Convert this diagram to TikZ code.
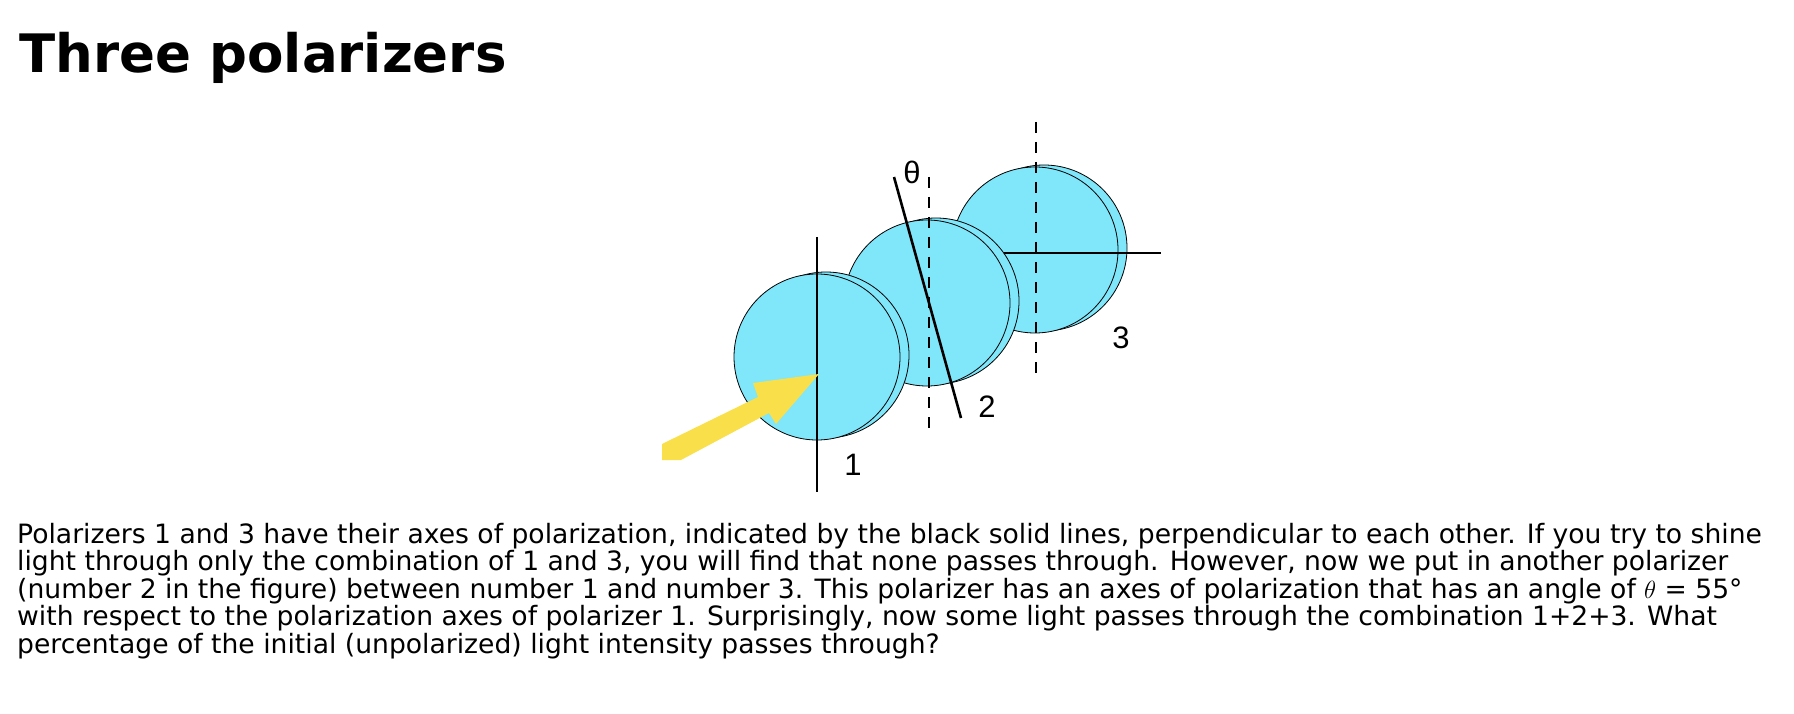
\documentclass[tikz,border=0pt]{standalone}
\usepackage{fontspec}
\setmainfont{DejaVu Sans}
\newfontfamily\labfont{Liberation Sans}
\begin{document}
\begin{tikzpicture}[x=1pt,y=-1pt,
  disk/.style={fill=diskc,draw=black,line width=0.8pt},
  axis/.style={line width=2.6pt},
  dax/.style={line width=2.4pt,dash pattern=on 11pt off 9pt},
  lab/.style={font=\labfont\fontsize{31}{31}\selectfont},
  body/.style={anchor=base west,inner sep=0pt,font=\fontsize{26.6}{30}\selectfont}]
\definecolor{diskc}{HTML}{80E6FA}
\definecolor{arrc}{HTML}{F9DF4A}
\useasboundingbox (0,0) rectangle (1794,714);
% title
\node[anchor=base west,inner sep=0pt,font=\bfseries\fontsize{53}{53}\selectfont] (title) at (19,73) {Three polarizers};
% disk 3
\draw[disk] (1044,248) circle (83);
\draw[disk] (1035,250) circle (83);
\draw[dax] (1036,122) -- (1036,375);
\draw[axis] (1002,253) -- (1161,253);
% disk 2
\draw[disk] (936,301) circle (83);
\draw[disk] (927,303) circle (83);
\draw[dax] (929,177) -- (929,428);
\draw[axis] (894,177) -- (961,418);
% disk 1
\draw[disk] (826,355) circle (83);
\draw[disk] (817,357) circle (83);
\draw[axis] (817,237) -- (817,492);
% arrow
\fill[arrc] (662,444) -- (758,397) -- (753,383) -- (819,374) -- (776,424) -- (769,413) -- (681,460) -- (662,460) -- cycle;
\node[lab] (t) at (912,172) {θ};
\node[lab] (l1) at (853,465) {1};
\node[lab] (l2) at (987,407) {2};
\node[lab] (l3) at (1121,338) {3};
% text
\node[body] (b1) at (17,543) {Polarizers 1 and 3 have their axes of polarization, indicated by the black solid lines, perpendicular to each other. If you try to shine};
\node[body] (b2) at (17,570.5) {light through only the combination of 1 and 3, you will find that none passes through. However, now we put in another polarizer};
\node[body] (b3) at (17,598) {(number 2 in the figure) between number 1 and number 3. This polarizer has an axes of polarization that has an angle of $\theta$ = 55°};
\node[body] (b4) at (17,625.5) {with respect to the polarization axes of polarizer 1. Surprisingly, now some light passes through the combination 1+2+3. What};
\node[body] (b5) at (17,653) {percentage of the initial (unpolarized) light intensity passes through?};
\end{tikzpicture}
\end{document}
